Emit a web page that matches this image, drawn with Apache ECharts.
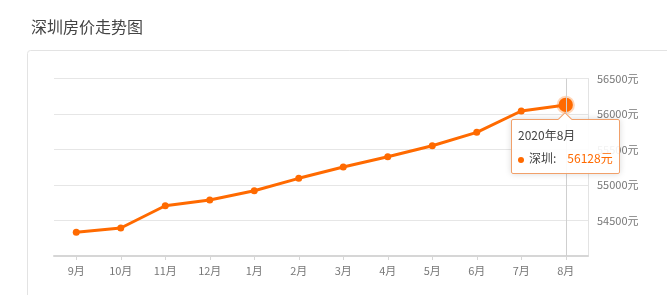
<!DOCTYPE html>
<html>
<head>
<meta charset="utf-8">
<script src="https://cdn.jsdelivr.net/npm/echarts@6/dist/echarts.min.js"></script>
<style>
html,body{margin:0;padding:0;background:#fff;}
#main{width:667px;height:295px;}
</style>
</head>
<body>
<div id="main"></div>
<script>
const titleText = '深圳房价走势图';
const seriesName = '深圳';
const months = ['9月','10月','11月','12月','1月','2月','3月','4月','5月','6月','7月','8月'];
const fullLabels = ['2019年9月','2019年10月','2019年11月','2019年12月','2020年1月','2020年2月','2020年3月','2020年4月','2020年5月','2020年6月','2020年7月','2020年8月'];
const prices = [54334, 54394, 54708, 54788, 54919, 55094, 55253, 55398, 55553, 55742, 56042, 56128];
const yMin = 54000, yMax = 56500, yStep = 500;
const unit = '元';
const activeIndex = 11;

const chart = echarts.init(document.getElementById('main'), null, {renderer:'canvas'});
const ORANGE = '#ff6a00';
const FONT = '"Noto Sans CJK SC", "Noto Sans", sans-serif';

const seriesData = prices.map(function (v, i) {
  if (i === activeIndex) {
    return { value: v, symbolSize: 13, itemStyle: { color: ORANGE, borderColor: 'rgba(255,106,0,0.28)', borderWidth: 4 } };
  }
  return v;
});

chart.setOption({
  animation: false,
  textStyle: { fontFamily: FONT },
  title: {
    text: titleText, left: 26, top: 14,
    textStyle: { fontSize: 16, fontWeight: 'normal', color: '#444', fontFamily: FONT }
  },
  graphic: [{
    type: 'rect', silent: true, z: -10,
    shape: { x: 27.5, y: 50.5, width: 700, height: 300, r: 3 },
    style: { fill: '#fff', stroke: '#e3e3e3', lineWidth: 1 }
  }],
  grid: { left: 54, right: 79, top: 78.5, bottom: 39 },
  tooltip: {
    trigger: 'axis',
    triggerOn: 'none',
    alwaysShowContent: true,
    transitionDuration: 0,
    backgroundColor: 'rgba(255,255,255,0.9)',
    borderColor: '#f1a06a',
    borderWidth: 1,
    padding: [3, 6, 4, 6],
    textStyle: { color: '#444', fontSize: 12, fontFamily: FONT },
    extraCssText: 'box-shadow:0 0 6px rgba(0,0,0,0.15);border-radius:2px;overflow:visible;',
    axisPointer: { type: 'line', lineStyle: { color: '#cfcfcf', width: 1, type: 'solid' } },
    position: function (point, params, dom, rect, size) {
      const idx = params[0].dataIndex;
      const p = chart.convertToPixel({ seriesIndex: 0 }, [idx, prices[idx]]);
      return [p[0] - size.contentSize[0] / 2, p[1] + 14];
    },
    formatter: function (params) {
      const p = params[0];
      return '<div style="position:absolute;left:50%;top:-6px;width:9px;height:9px;margin-left:-5px;background:#fff;border-left:1px solid #f1a06a;border-top:1px solid #f1a06a;transform:rotate(45deg);"></div>' +
        '<div style="line-height:23px;">' + fullLabels[p.dataIndex] + '</div>' +
        '<div style="line-height:23px;"><span style="display:inline-block;width:6px;height:6px;border-radius:50%;background:' + ORANGE + ';margin-right:5px;vertical-align:middle;"></span>' +
        seriesName + ':<span style="color:' + ORANGE + ';margin-left:11px;">' + prices[p.dataIndex] + unit + '</span></div>';
    }
  },
  xAxis: {
    type: 'category',
    data: months,
    boundaryGap: true,
    axisLine: { show: true, lineStyle: { color: '#d6d6d6', width: 2 } },
    axisTick: { show: true, alignWithLabel: true, length: 4, lineStyle: { color: '#d6d6d6' } },
    axisLabel: { color: '#777', fontSize: 11, margin: 9, fontFamily: FONT },
    splitLine: { show: false }
  },
  yAxis: {
    type: 'value',
    position: 'right',
    min: yMin, max: yMax, interval: yStep,
    axisLine: { show: true, lineStyle: { color: '#e3e3e3', width: 1 } },
    axisTick: { show: false },
    axisLabel: {
      color: '#777', fontSize: 11, margin: 9, fontFamily: FONT,
      showMinLabel: false,
      formatter: function (v) { return v + unit; }
    },
    splitLine: { show: true, lineStyle: { color: '#e6e6e6', width: 1 } }
  },
  series: [{
    name: seriesName,
    type: 'line',
    data: seriesData,
    symbol: 'circle',
    symbolSize: 7,
    showSymbol: true,
    lineStyle: { color: ORANGE, width: 3 },
    itemStyle: { color: ORANGE },
    emphasis: { disabled: true }
  }]
});

chart.dispatchAction({ type: 'showTip', seriesIndex: 0, dataIndex: activeIndex });
</script>
</body>
</html>
